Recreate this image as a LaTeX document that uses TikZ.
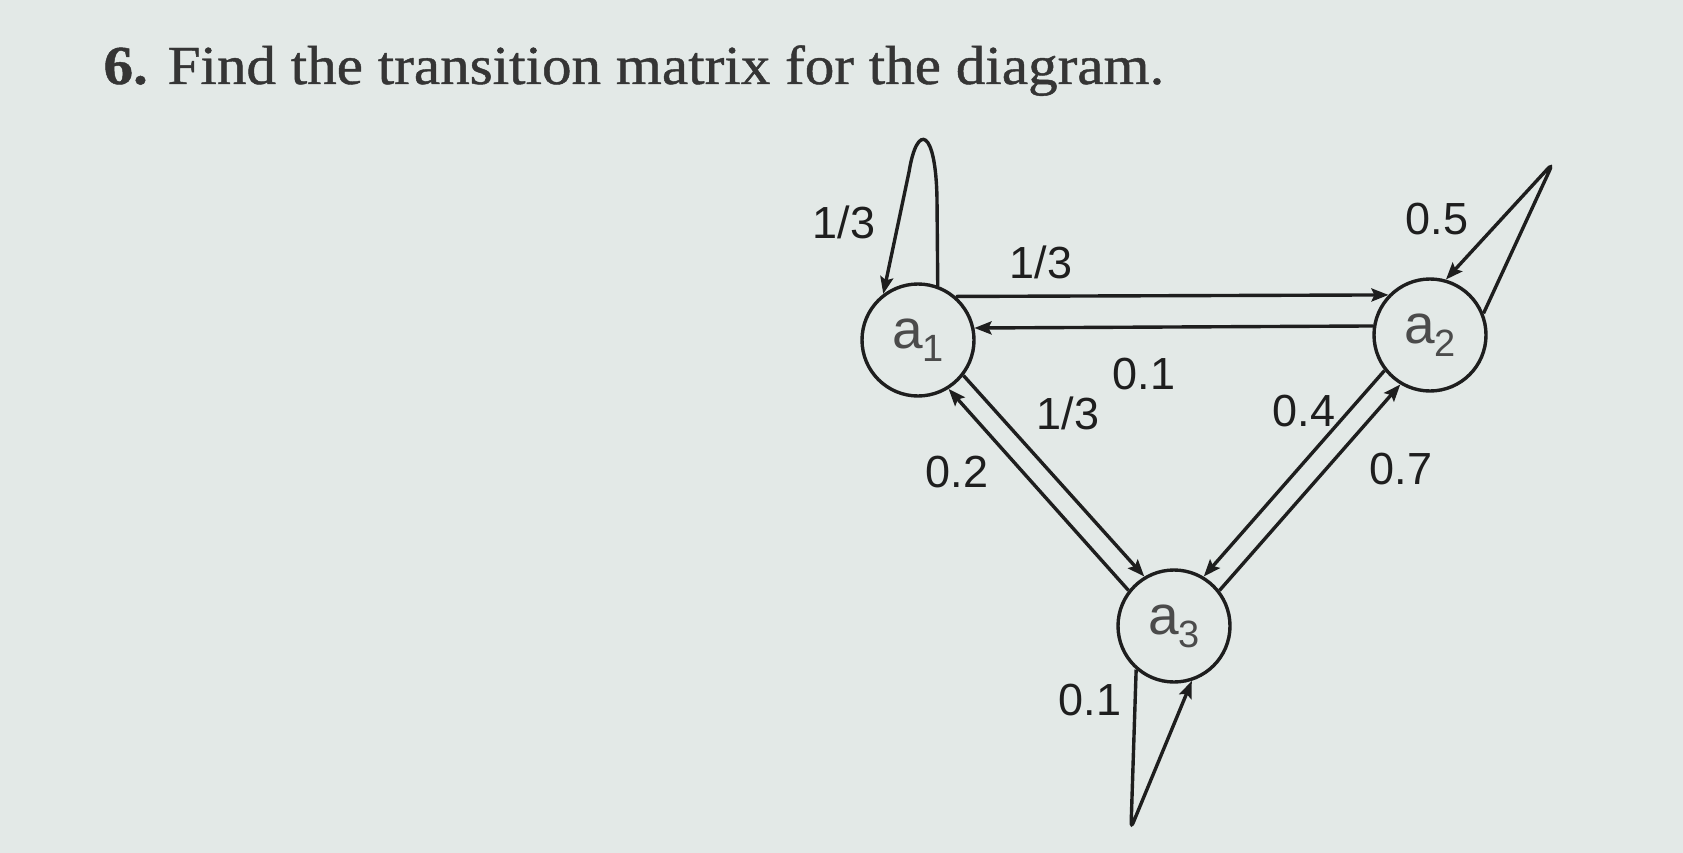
\documentclass[tikz,border=0pt]{standalone}
\usepackage{fontspec}
\setmainfont{Liberation Serif}
\newfontfamily\lsans{Liberation Sans}
\newfontfamily\titlef[FakeBold=0.8]{Liberation Serif}
\usetikzlibrary{arrows.meta}
\definecolor{bg}{RGB}{227,233,231}
\definecolor{ink}{RGB}{30,30,30}
\begin{document}
\begin{tikzpicture}[x=1pt,y=-1pt,
  state/.style={circle,draw=ink,line width=3.4pt,minimum size=112pt,inner sep=0pt,
    font=\lsans\fontsize{55}{55}\selectfont,text=ink!80!white},
  lbl/.style={font=\lsans\fontsize{45}{45}\selectfont,text=ink,inner sep=0pt},
  arr/.style={draw=ink,line width=3.4pt,-{Stealth[length=17pt,width=13pt,inset=3pt]}},
  ]
\fill[bg] (0,0) rectangle (1683,853);
\useasboundingbox (0,0) rectangle (1683,853);
\newcommand{\sub}[1]{\raisebox{-13pt}{\fontsize{38}{38}\selectfont #1}}

\node[anchor=base west,font=\titlef\fontsize{55}{55}\selectfont,text=ink!90!white] (title) at (100,84)
  {\scalebox{1.075}[1]{\textbf{6.} Find the transition matrix for the diagram.}};

\node[state] (a1) at (918,340) {a\sub{1}};
\node[state] (a2) at (1430,335) {a\sub{2}};
\node[state] (a3) at (1174,626) {a\sub{3}};

% a1 <-> a2
\draw[arr] (a1.49) -- (a2.136);
\draw[arr] (a2.171) -- (a1.12);
% a1 <-> a3
\draw[arr] (a3.142) -- (a1.-58.5);
\draw[arr] (a1.-38) -- (a3.121.5);
% a2 <-> a3
\draw[arr] (a2.218.4) -- (a3.59);
\draw[arr] (a3.38.4) -- (a2.239);
% loops
\draw[arr] (a1.70) -- (937,200) .. controls (936,128) and (917,122) .. (909,172) -- (a1.127);
\draw[arr,rounded corners=8pt] (a2.22) -- (1553,163) -- (a2.74);
\draw[arr,rounded corners=6pt] (a3.229) -- (1131,828) -- (a3.288);

% labels
\node[lbl] (l11) at (844,222) {1/3};
\node[lbl] (l12) at (1041,262) {1/3};
\node[lbl] (l22) at (1437,219) {0.5};
\node[lbl] (l21) at (1144,374) {0.1};
\node[lbl] (l13) at (1068,413) {1/3};
\node[lbl] (l23) at (1304,411) {0.4};
\node[lbl] (l31) at (957,472) {0.2};
\node[lbl] (l32) at (1401,469) {0.7};
\node[lbl] (l33) at (1090,700) {0.1};
\end{tikzpicture}
\end{document}
